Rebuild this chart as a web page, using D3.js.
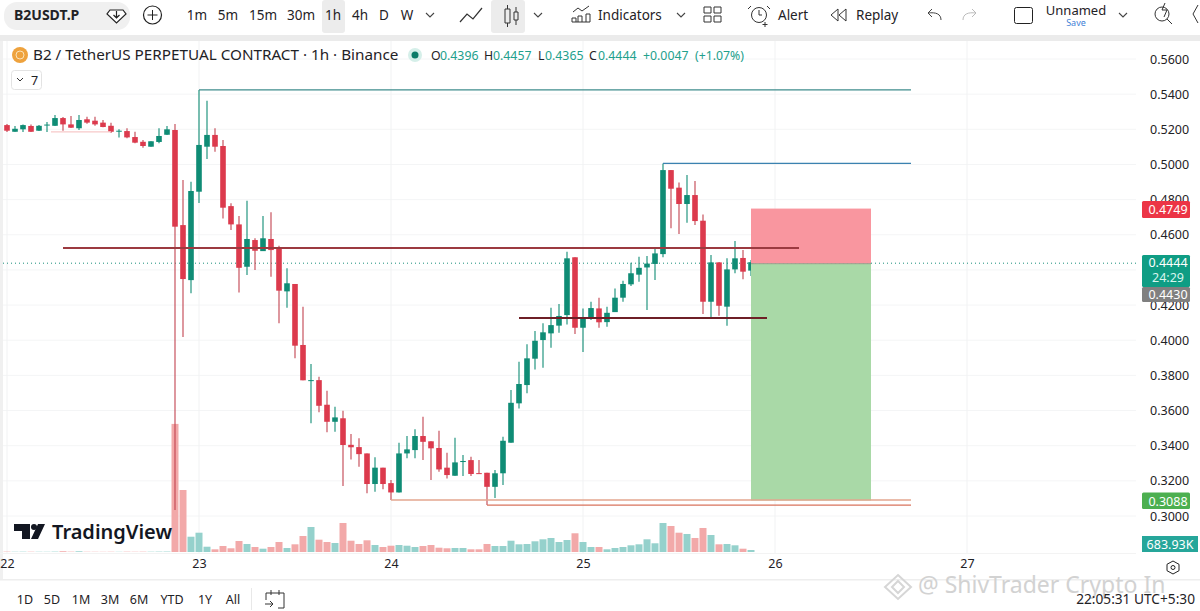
<!DOCTYPE html>
<html><head><meta charset="utf-8">
<script src="https://cdn.jsdelivr.net/npm/d3@7/dist/d3.min.js"></script>
<style>html,body{margin:0;padding:0;background:#fff;overflow:hidden}svg{display:block}text{font-family:"Noto Sans",sans-serif}</style>
</head><body><svg id="c" width="1200" height="611"></svg>
<script>
const opens=[.5224,.5186,.5200,.5219,.5192,.5223,.5220,.5264,.5228,.5206,.5257,.5249,.5238,.5220,.5189,.5190,.5156,.5129,.5101,.5128,.5169,.5196,.4655,.4342,.4845,.5101,.5168,.5105,.4763,.4659,.4418,.4570,.4507,.4576,.4525,.4278,.4320,.3973,.3768,.3773,.3633,.3536,.3556,.3405,.3392,.3356,.3182,.3275,.3187,.3134,.3356,.3375,.3455,.3425,.3387,.3275,.3229,.3307,.3318,.3244,.3246,.3166,.3243,.3417,.3641,.3745,.3895,.4001,.4039,.4083,.4143,.4472,.4071,.4125,.4181,.4103,.4160,.4242,.4318,.4373,.4414,.4434,.4490,.4968,.4868,.4775,.4826,.4680,.4219,.4443,.4191,.4403,.4468,.4396];
const highs=[.5230,.5219,.5227,.5227,.5224,.5242,.5281,.5270,.5276,.5281,.5272,.5272,.5253,.5238,.5200,.5206,.5186,.5139,.5132,.5206,.5219,.5230,.4912,.4902,.5424,.5363,.5206,.5139,.4779,.4707,.4794,.4580,.4707,.4728,.4538,.4409,.4320,.4191,.3865,.3792,.3713,.3622,.3599,.3466,.3442,.3356,.3334,.3275,.3205,.3417,.3455,.3493,.3565,.3425,.3485,.3360,.3445,.3347,.3337,.3318,.3246,.3261,.3451,.3717,.3878,.3977,.4052,.4096,.4185,.4206,.4504,.4472,.4181,.4219,.4242,.4191,.4295,.4339,.4441,.4475,.4479,.4525,.5006,.4968,.4898,.4940,.4906,.4716,.4485,.4443,.4466,.4564,.4513,.4457];
const lows=[.5185,.5186,.5185,.5185,.5190,.5185,.5219,.5192,.5207,.5196,.5232,.5220,.5211,.5179,.5154,.5149,.5120,.5095,.5101,.5120,.5168,.3034,.4018,.4267,.4781,.5031,.5072,.4693,.4627,.4272,.4371,.4399,.4507,.4361,.4096,.4185,.3897,.3772,.3527,.3590,.3476,.3479,.3170,.3322,.3280,.3129,.3138,.3152,.3091,.3134,.3328,.3328,.3318,.3205,.3252,.3214,.3229,.3227,.3227,.3240,.3062,.3102,.3176,.3417,.3612,.3698,.3834,.3843,.3957,.4043,.4090,.4035,.3933,.4115,.4071,.4077,.4160,.4219,.4308,.4333,.4172,.4342,.4472,.4637,.4604,.4669,.4655,.4149,.4125,.4139,.4083,.4381,.4347,.4365];
const closes=[.5192,.5203,.5224,.5186,.5220,.5227,.5264,.5228,.5209,.5253,.5238,.5228,.5213,.5186,.5192,.5154,.5124,.5105,.5132,.5162,.5200,.4646,.4348,.4849,.5111,.5168,.5101,.4754,.4659,.4412,.4576,.4509,.4580,.4513,.4282,.4324,.3969,.3772,.3773,.3627,.3536,.3561,.3404,.3391,.3352,.3182,.3275,.3182,.3134,.3356,.3379,.3455,.3422,.3385,.3265,.3233,.3305,.3313,.3239,.3240,.3166,.3243,.3428,.3644,.3751,.3897,.3997,.4045,.4086,.4138,.4466,.4071,.4125,.4183,.4102,.4156,.4242,.4320,.4381,.4412,.4436,.4494,.4968,.4862,.4775,.4826,.4678,.4219,.4443,.4196,.4403,.4466,.4390,.4444];
const volumes=[120,90,110,100,90,80,130,260,120,240,90,80,70,90,70,110,90,110,100,130,150,43800,21200,5230,6600,1810,920,2050,1270,3760,2740,1710,1130,1710,3420,1370,2630,5470,8550,4210,3420,3080,9920,3860,2740,4000,2390,1710,2150,2390,2150,1710,2050,2390,1470,1270,1370,1370,920,920,2740,2050,2050,3860,2630,2740,3660,4340,4790,3420,4100,6400,3420,1710,1710,920,1370,1710,2290,2630,4340,2980,9920,8890,6600,6160,4790,8210,5810,2630,2740,2290,1130,683.93];
const priceTicks=[.56,.54,.52,.50,.48,.46,.44,.42,.40,.38,.36,.34,.32,.30];
const dayBars=[0,24,48,72,96,120];
const dayLabels=["22","23","24","25","26","27"];
const rayStart=[24,82,48,60];
const rayEnd=[113,113,113,113];
const rayPrice=[.5424,.5006,.3091,.3062];
const rayColor=["#3f8c8c","#3b82b0","#e3a68f","#d8735c"];
const levelStart=[7,64,5.5];
const levelEnd=[99,95,13];
const levelPrice=[.4525,.4127,.5185];
const levelColor=["#9c3a40","#6e1f26","#f7c9c9"];
const levelWidth=[2,2,1.2];
const positionBars=[93,108];
const stopPrice=.4749, entryPrice=.4444, targetPrice=.3088, lastPrice=.4430, lastVolume="683.93K";
const intervals=["1m","5m","15m","30m","1h","4h","D","W"];
const intervalX=[197,228,263,301,333,360,384,407];
const ranges=["1D","5D","1M","3M","6M","YTD","1Y","All"];
const rangeX=[25,52,81,110,139,172,205,233];

const RED="#dc3a4d",GREEN="#0f8c75",VRED="#f2a9a9",VGREEN="#95d1cc";
const svg=d3.select("#c");
const x=d3.scaleLinear().domain([0,120]).range([7,967]);
const y=d3.scaleLinear().domain([.30,.56]).range([516,59]);
const v=d3.scaleLinear().domain([0,45000]).range([552,420.4]);
const isUp=i=>closes[i]>=opens[i];
const idx=d3.range(opens.length);
function rect(g,a,b,w,h,f){return g.append("rect").attr("x",a).attr("y",b).attr("width",w).attr("height",h).attr("fill",f)}
function txt(g,s,a,b,o={}){const t=g.append("text").attr("x",a).attr("y",b).attr("font-size",o.size||13).attr("fill",o.fill||"#1f2226").attr("text-anchor",o.anchor||"middle").attr("font-weight",o.weight||400).text(s);if(o.family)t.style("font-family",o.family);return t}

// frame
rect(svg,0,0,1200,611,"#fff");
rect(svg,0,35,1200,6,"#ebebeb");
rect(svg,0,41,3,538,"#f0f0f0");
rect(svg,0,553,1136,1,"#f3f3f3");
rect(svg,0,579,1200,1.5,"#eeeeee");

// grid
const grid=svg.append("g");
grid.selectAll(".h").data(priceTicks).join("line").attr("x1",3).attr("x2",1136).attr("y1",d=>y(d)).attr("y2",d=>y(d)).attr("stroke","#f4f5f6");
grid.selectAll(".v").data(dayBars).join("line").attr("x1",d=>x(d)).attr("x2",d=>x(d)).attr("y1",41).attr("y2",553).attr("stroke","#f1f2f3");

// volume
svg.append("g").selectAll("rect").data(idx).join("rect").attr("x",i=>x(i)-3.5).attr("width",7).attr("y",i=>v(volumes[i])).attr("height",i=>552-v(volumes[i])).attr("fill",i=>isUp(i)?VGREEN:VRED);

// last price dotted line
svg.append("line").attr("x1",3).attr("x2",1136).attr("y1",y(entryPrice)+1).attr("y2",y(entryPrice)+1).attr("stroke","#1b8f7c").attr("stroke-width",1).attr("stroke-dasharray","1 3");

// candles
const cg=svg.append("g");
cg.selectAll("line").data(idx).join("line").attr("x1",i=>x(i)).attr("x2",i=>x(i)).attr("y1",i=>y(highs[i])).attr("y2",i=>y(lows[i])).attr("stroke",i=>isUp(i)?GREEN:"#c2434f").attr("stroke-width",1.1);
cg.selectAll("rect").data(idx).join("rect").attr("x",i=>x(i)-2.8).attr("width",5.6).attr("y",i=>y(Math.max(opens[i],closes[i]))).attr("height",i=>Math.max(1,Math.abs(y(opens[i])-y(closes[i])))).attr("fill",i=>isUp(i)?GREEN:RED);

// position tool
const pl=x(positionBars[0]),pw=x(positionBars[1])-pl;
rect(svg,pl,y(stopPrice),pw,y(entryPrice)-y(stopPrice)+1.5,"#f9969f");
rect(svg,pl,y(entryPrice)+1.5,pw,y(targetPrice)-y(entryPrice)-1.5,"#a9d9a7");
svg.append("line").attr("x1",pl).attr("x2",pl+pw).attr("y1",y(entryPrice)+1.5).attr("y2",y(entryPrice)+1.5).attr("stroke","#9c9c8c");

// drawn levels
const ag=svg.append("g");
rayPrice.forEach((p,i)=>{ag.append("line").attr("x1",x(rayStart[i])).attr("x2",x(rayEnd[i])).attr("y1",y(p)).attr("y2",y(p)).attr("stroke",rayColor[i]).attr("stroke-width",1.3)});
levelPrice.forEach((p,i)=>{ag.append("line").attr("x1",x(levelStart[i])).attr("x2",x(levelEnd[i])).attr("y1",y(p)).attr("y2",y(p)).attr("stroke",levelColor[i]).attr("stroke-width",levelWidth[i])});

// axes (the 0.4400 label sits fully behind the live price tag in the reference, so it is left blank)
const ya=svg.append("g").attr("transform","translate(1150,0)").call(d3.axisRight(y).tickValues(priceTicks).tickSize(0).tickPadding(0).tickFormat(d=>d===.44?"":d3.format(".4f")(d)));
ya.select(".domain").remove();
ya.selectAll("text").attr("font-size",12.5).attr("fill","#1f2226").style("font-family",'"Noto Sans",sans-serif');
const xa=svg.append("g").attr("transform","translate(0,555)").call(d3.axisBottom(x).tickValues(dayBars).tickSize(0).tickPadding(4).tickFormat((d,i)=>dayLabels[i]));
xa.select(".domain").remove();
xa.selectAll("text").attr("font-size",12.5).attr("fill","#1f2226").style("font-family",'"Noto Sans",sans-serif');

// price labels
const fmt=d3.format(".4f");
function tag(b,h,f){rect(svg,1142,b,48,h,f).attr("rx",1.5)}
tag(y(stopPrice)-7.5,17,"#ec3546");txt(svg,fmt(stopPrice),1168,y(stopPrice)+5.5,{size:12.5,fill:"#fff"});
tag(255,32,"#0f9d84");txt(svg,fmt(entryPrice),1168,267,{size:12.5,fill:"#fff"});txt(svg,"24:29",1168,282,{size:12.5,fill:"#d8f5ee"});
tag(287,15,"#808080");txt(svg,fmt(lastPrice),1168,298.5,{size:12.5,fill:"#fff"});
tag(y(targetPrice)-8,16.5,"#4caf50");txt(svg,fmt(targetPrice),1168,y(targetPrice)+5,{size:12.5,fill:"#fff"});
rect(svg,1142,536,56,16,"#26a69a");txt(svg,lastVolume,1170,548.5,{size:12.5,fill:"#fff"});

// legend
const lg=svg.append("g");
lg.append("circle").attr("cx",20).attr("cy",55).attr("r",8).attr("fill","#eea23d");
lg.append("circle").attr("cx",20).attr("cy",55).attr("r",4).attr("fill","none").attr("stroke","#fbe2b8");
txt(lg,"B2 / TetherUS PERPETUAL CONTRACT · 1h · Binance",33,60,{anchor:"start",size:15.25,fill:"#1f2226"});
lg.append("circle").attr("cx",415).attr("cy",55).attr("r",7).attr("fill","#d5efe9");
lg.append("circle").attr("cx",415).attr("cy",55).attr("r",3.5).attr("fill","#0b7c68");
const legItems=[["O",431],["0.4396",440],["H",484],["0.4457",493],["L",538],["0.4365",545],["C",589],["0.4444",598],["+0.0047",643],["(+1.07%)",695]];
legItems.forEach(([s,a])=>{const isKey=s.length===1;txt(lg,s,a,59.5,{anchor:"start",size:12.3,fill:isKey?"#1f2226":"#22a08c"})});
lg.append("rect").attr("x",11.5).attr("y",70.5).attr("width",30).attr("height",19).attr("rx",3).attr("fill","#fff").attr("stroke","#e3e3e3");
lg.append("path").attr("d","M17 78l3 3 3-3").attr("fill","none").attr("stroke","#333");
txt(lg,"7",34.5,85,{size:12.5});

// watermark logo
const wm=svg.append("g");
wm.append("path").attr("d","M14 524h16v15h-8v-8h-8zM31 539l7-15h7l-7 15z").attr("fill","#131722");
wm.append("circle").attr("cx",34).attr("cy",527).attr("r",3).attr("fill","#131722");
txt(wm,"TradingView",52,539,{anchor:"start",size:20,fill:"#131722",weight:600});

// toolbar
const tb=svg.append("g");
rect(tb,4,2,126,28,"#f0f0f0").attr("rx",13);
txt(tb,"B2USDT.P",14,20,{anchor:"start",size:14,weight:700});
tb.append("path").attr("d","M110 10h13l3 4-9.5 9-9.5-9zM116.5 11v7M113.5 15l3 3 3-3").attr("fill","#fff").attr("stroke","#222").attr("stroke-width",1.2);
tb.append("circle").attr("cx",152.5).attr("cy",15).attr("r",9).attr("fill","none").attr("stroke","#222").attr("stroke-width",1.2);
tb.append("path").attr("d","M152.5 10v10M147.5 15h10").attr("stroke","#222");
rect(tb,322,0,23,33,"#ececec").attr("rx",3);
rect(tb,491,0,34,33,"#ececec").attr("rx",3);
intervals.forEach((s,i)=>txt(tb,s,intervalX[i],20,{size:13.5}));
function chev(a,b=15){tb.append("path").attr("d",`M${a-4} ${b-2}l4 4 4-4`).attr("fill","none").attr("stroke","#444").attr("stroke-width",1.1)}
[430,538,681,1123].forEach(a=>chev(a));
tb.append("path").attr("d","M460 22l7-8 6 5 9-11").attr("fill","none").attr("stroke","#333").attr("stroke-width",1.2);
tb.append("path").attr("d","M505 9h5v14h-5zM507.5 5v4M507.5 23v4M514 12h4v8h-4zM516 7v5M516 20v5").attr("fill","none").attr("stroke","#333");
tb.append("path").attr("d","M572 22h18v-8h-4v8M578 22v-6h4v6M572 22v-4h4v4M573 12l5-4 4 3 7-5").attr("fill","none").attr("stroke","#333");
txt(tb,"Indicators",598,20,{anchor:"start",size:13.5});
tb.append("path").attr("d","M704 7h7v6h-7zM714 7h7v6h-7zM704 16h7v6h-7zM714 16h7v6h-7z").attr("fill","none").attr("stroke","#333");
tb.append("circle").attr("cx",759).attr("cy",15).attr("r",7.5).attr("fill","none").attr("stroke","#333");
tb.append("path").attr("d","M759 10v5h3M751 6l-3 3M767 6l3 3M765 22v5M762.5 24.5h5").attr("fill","none").attr("stroke","#333");
txt(tb,"Alert",778,20,{anchor:"start",size:13.5});
tb.append("path").attr("d","M838 9l-7 6 7 6zM846 9l-7 6 7 6z").attr("fill","none").attr("stroke","#333");
txt(tb,"Replay",856,20,{anchor:"start",size:13.5});
tb.append("path").attr("d","M941 20c0-6-5-8-13-7M932 9l-4 4 4 4").attr("fill","none").attr("stroke","#444");
tb.append("path").attr("d","M963 20c0-6 5-8 13-7M972 9l4 4-4 4").attr("fill","none").attr("stroke","#bbb");
tb.append("rect").attr("x",1014.5).attr("y",7.5).attr("width",18).attr("height",16).attr("rx",2).attr("fill","none").attr("stroke","#222");
txt(tb,"Unnamed",1076,15,{size:13});
txt(tb,"Save",1076,26,{size:9,fill:"#3f7fd6"});
tb.append("circle").attr("cx",1162).attr("cy",14).attr("r",7).attr("fill","none").attr("stroke","#333");
tb.append("path").attr("d","M1167 19l5 5M1165 3l-3 7h5l-3 7").attr("fill","none").attr("stroke","#333");
tb.append("path").attr("d","M1198 5l-5 9 5 9").attr("fill","none").attr("stroke","#333");

// bottom bar
const bb=svg.append("g");
ranges.forEach((s,i)=>txt(bb,s,rangeX[i],604,{size:12.5}));
rect(bb,251,588,1,22,"#e8e8e8");
bb.append("path").attr("d","M266 593h18v15h-6M266 593v7M271 590v5M279 590v5M265 604h8M270 601l3 3-3 3").attr("fill","none").attr("stroke","#333");
bb.append("path").attr("d","M1173 561l6 3.3v6.4l-6 3.3-6-3.3v-6.4z").attr("fill","none").attr("stroke","#222");
bb.append("circle").attr("cx",1173).attr("cy",567.5).attr("r",2).attr("fill","none").attr("stroke","#222");
bb.append("path").attr("d","M898 575l13 12-13 12-13-12zM898 581l6 6-6 6-6-6z").attr("fill","none").attr("stroke","#d6d6d6").attr("stroke-width",2);
txt(bb,"@ ShivTrader Crypto In",918,593,{anchor:"start",size:23,fill:"#d2d2d2"});
txt(bb,"22:05:31 UTC+5:30",1195,604,{anchor:"end",size:13.7});
</script></body></html>
